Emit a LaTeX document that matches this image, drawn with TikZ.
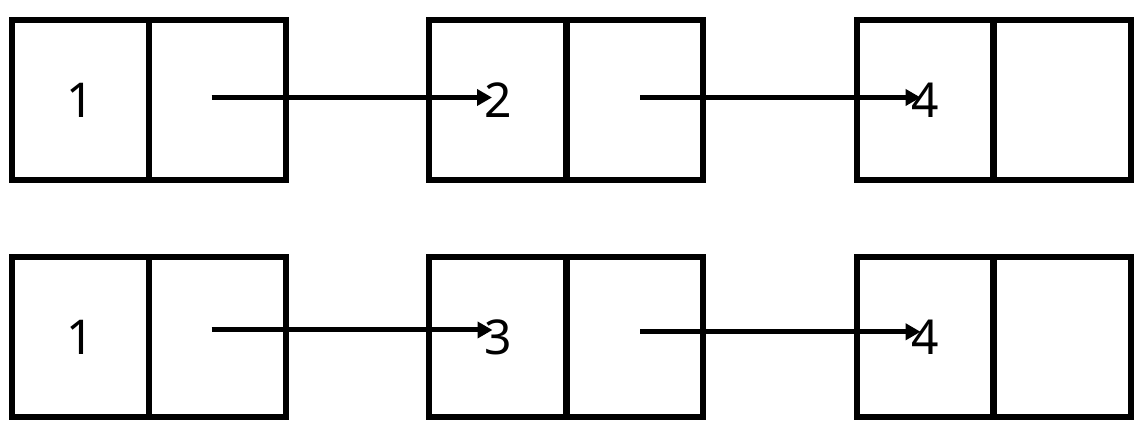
\documentclass[tikz,border=0pt]{standalone}
\usepackage{fontspec}
\setmainfont{Noto Sans}
\usetikzlibrary{arrows.meta}
\begin{document}
\begin{tikzpicture}[x=1pt,y=1pt,
  cell/.style={draw,line width=6pt,minimum width=137.3pt,minimum height=160pt,inner sep=0pt,outer sep=0pt,
    font=\fontsize{48}{48}\selectfont},
  link/.style={line width=5pt,-{Triangle[length=15pt,width=16pt]}}]
\useasboundingbox (0,0) rectangle (1146,427);
% top row
\node[cell] (ta1) at (80.3,326.9) {1};
\node[cell] (ta2) at (217.7,326.9) {};
\node[cell] (tb1) at (498,326.9) {2};
\node[cell] (tb2) at (634.5,326.9) {};
\node[cell] (tc1) at (925.6,326.9) {4};
\node[cell] (tc2) at (1062,326.9) {};
% bottom row
\node[cell] (ba1) at (80.3,89.7) {1};
\node[cell] (ba2) at (217.7,89.7) {};
\node[cell] (bb1) at (498,89.7) {3};
\node[cell] (bb2) at (634.5,89.7) {};
\node[cell] (bc1) at (925.6,89.7) {4};
\node[cell] (bc2) at (1062,89.7) {};
% links
\draw[link] ([shift={(-6,2.6)}]ta2.center) -- ([shift={(-6,2.6)}]tb1.center);
\draw[link] ([shift={(5.5,2.6)}]tb2.center) -- ([shift={(-5,2.6)}]tc1.center);
\draw[link] ([shift={(-6,7.3)}]ba2.center) -- ([shift={(-5.5,7.3)}]bb1.center);
\draw[link] ([shift={(5.5,5.5)}]bb2.center) -- ([shift={(-5,5.5)}]bc1.center);
\end{tikzpicture}
\end{document}
